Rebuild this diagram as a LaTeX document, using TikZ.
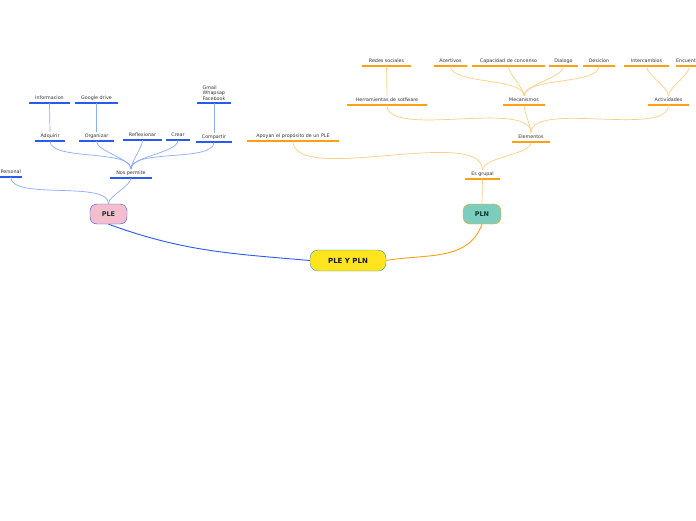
\documentclass[tikz,border=0pt]{standalone}
\usepackage{fontspec}
\setmainfont{DejaVu Sans}
\begin{document}
\begin{tikzpicture}[x=1pt,y=-1pt,
  tb/.style={anchor=south,inner xsep=0pt,inner ysep=2pt,text height=3.6pt,text depth=1pt,font=\fontsize{4.8}{5.8}\selectfont,text=black!80,
    append after command={(\tikzlastnode.south west) edge[draw=#1,line width=1.3pt] (\tikzlastnode.south east)}},
  bl/.style={draw={rgb,255:red,140;green,170;blue,255},line width=0.7pt},
  ol/.style={draw={rgb,255:red,255;green,205;blue,130},line width=0.7pt},
  cv/.style={out=-90,in=90,looseness=0.6}]
\useasboundingbox (0,0) rectangle (696,520);
\definecolor{bu}{RGB}{40,90,240}
\definecolor{og}{RGB}{255,160,20}
% blue side
\node[tb=bu,minimum width=41] (inf) at (49.5,103) {Informacion};
\node[tb=bu,minimum width=43] (gd) at (96.5,103) {Google drive};
\node[tb=bu,minimum width=34,align=left,text height=,text depth=] (gm) at (214,103) {Gmail\\Whapsap\\Facebook};
\node[tb=bu,minimum width=30] (adq) at (50,141) {Adquirir};
\node[tb=bu,minimum width=35] (org) at (96.5,141) {Organizar};
\node[tb=bu,minimum width=39] (ref) at (142.5,140) {Reflexionar};
\node[tb=bu,minimum width=24] (cre) at (178,140) {Crear};
\node[tb=bu,minimum width=36] (com) at (214,142) {Compartir};
\node[tb=bu,minimum width=42] (nos) at (131,178) {Nos permite};
\node[tb=bu,minimum width=22,anchor=south east] (per) at (22,177) {Personal};
\node[draw=bu,fill={rgb,255:red,245;green,190;blue,205},rounded corners=7pt,minimum width=37,minimum height=20,inner sep=0pt,font=\fontsize{6.5}{7}\selectfont\bfseries,text={rgb,255:red,10;green,60;blue,50}] (ple) at (108.5,214) {PLE};
\node[draw={rgb,255:red,60;green,150;blue,200},fill={rgb,255:red,255;green,228;blue,30},rounded corners=8pt,minimum width=76,minimum height=21,inner sep=0pt,font=\fontsize{7}{8}\selectfont\bfseries,text={rgb,255:red,20;green,20;blue,60}] (root) at (348,260.5) {PLE Y PLN};
\node[draw=og,fill={rgb,255:red,125;green,205;blue,190},rounded corners=7pt,minimum width=38,minimum height=20,inner sep=0pt,font=\fontsize{6.5}{7}\selectfont\bfseries,text={rgb,255:red,10;green,60;blue,50}] (pln) at (482,214) {PLN};
% orange side
\node[tb=og,minimum width=49] (red) at (386.5,66) {Redes sociales};
\node[tb=og,minimum width=33] (ace) at (450.5,66) {Acertivos};
\node[tb=og,minimum width=73] (cap) at (508.5,66) {Capacidad de concenso};
\node[tb=og,minimum width=29] (dia) at (563.5,66) {Dialogo};
\node[tb=og,minimum width=32] (des) at (599,66) {Desicion};
\node[tb=og,minimum width=45] (int) at (646.5,66) {Intercambios};
\node[tb=og,minimum width=23,anchor=south west] (enc) at (676,66) {Encuentros};
\node[tb=og,minimum width=80] (her) at (387,105) {Herramientas de sotfware};
\node[tb=og,minimum width=42] (mec) at (524,105) {Mecanismos};
\node[tb=og,minimum width=41] (act) at (668.5,105) {Actividades};
\node[tb=og,minimum width=92] (apo) at (293,141) {Apoyan el propósito de un PLE};
\node[tb=og,minimum width=38] (ele) at (531,142) {Elementos};
\node[tb=og,minimum width=35] (esg) at (482.5,179) {Es grupal};
% connectors blue
\draw[bl] (inf.south) -- (adq.north);
\draw[bl] (gd.south) -- (org.north);
\draw[bl] (gm.south) -- (com.north);
\foreach \n in {adq,org,ref,cre,com} \draw[bl] (\n.south) to[cv] (nos.north);
\draw[bl] (per.south) to[cv] (ple.north);
\draw[bl] (nos.south) to[cv] (ple.north);
\draw[bu,line width=0.9pt] (ple.south) to[out=-20,in=175] (root.west);
% connectors orange
\draw[ol] (red.south) -- (her.north);
\foreach \n in {ace,cap,dia,des} \draw[ol] (\n.south) to[cv] (mec.north);
\foreach \n in {int,enc} \draw[ol] (\n.south) to[cv] (act.north);
\foreach \n in {her,mec,act} \draw[ol] (\n.south) to[cv] (ele.north);
\foreach \n in {apo,ele} \draw[ol] (\n.south) to[cv] (esg.north);
\draw[ol] (esg.south) -- (pln.north);
\draw[og,line width=0.9pt] (pln.south) to[out=-110,in=10] (root.east);
\end{tikzpicture}
\end{document}
